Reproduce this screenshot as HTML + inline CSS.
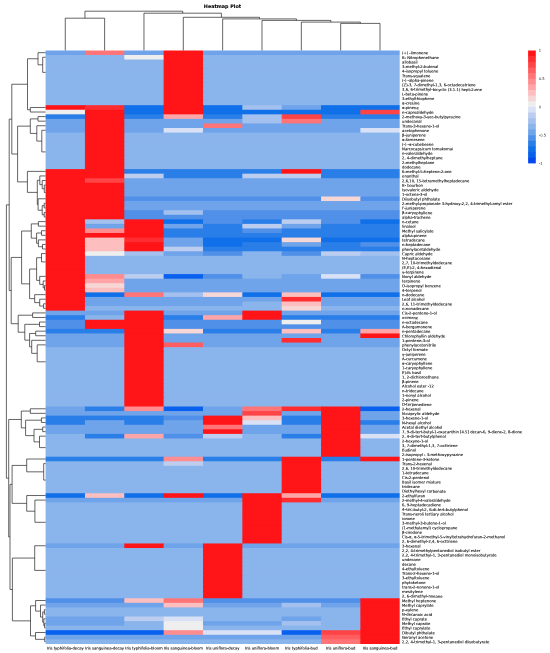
<!DOCTYPE html>
<html><head><meta charset="utf-8"><title>Heatmap Plot</title>
<style>
html,body{margin:0;padding:0;background:#fff;}
body{width:550px;height:653px;overflow:hidden;}
svg{display:block;}
text{font-family:"DejaVu Sans","Liberation Sans",sans-serif;fill:#000;text-rendering:geometricPrecision;stroke:#000;stroke-width:0.09px;}
.rl{font-size:3.76px;}
.cl{font-size:3.76px;text-anchor:middle;}
.cb{font-size:3.7px;stroke:none;fill:#222;}
.tt{font-size:4.86px;font-weight:bold;text-anchor:middle;}
.dg line,.dg path{stroke:#222;stroke-width:0.7;fill:none;}
</style></head><body>
<svg width="550" height="653" viewBox="0 0 550 653">
<rect x="0" y="0" width="550" height="653" fill="#ffffff"/>
<clipPath id="hc"><rect x="45.60" y="50.40" width="354.10" height="593.50"/></clipPath>
<g id="heat" clip-path="url(#hc)" opacity="0.9999">
<rect x="44.60" y="49.40" width="41.14" height="6.37" fill="#6fa3ea"/>
<rect x="84.94" y="49.40" width="40.14" height="6.37" fill="#ff7577"/>
<rect x="124.29" y="49.40" width="40.14" height="6.37" fill="#6fa3ea"/>
<rect x="163.63" y="49.40" width="40.14" height="6.37" fill="#ff1418"/>
<rect x="202.98" y="49.40" width="197.52" height="6.37" fill="#6fa3ea"/>
<rect x="44.60" y="54.97" width="80.49" height="5.37" fill="#8ab4ec"/>
<rect x="124.29" y="54.97" width="40.14" height="5.37" fill="#eeeeee"/>
<rect x="163.63" y="54.97" width="40.14" height="5.37" fill="#ff1418"/>
<rect x="202.98" y="54.97" width="197.52" height="5.37" fill="#8ab4ec"/>
<rect x="44.60" y="59.53" width="119.83" height="5.37" fill="#8ab4ec"/>
<rect x="163.63" y="59.53" width="40.14" height="5.37" fill="#ff1418"/>
<rect x="202.98" y="59.53" width="197.52" height="5.37" fill="#8ab4ec"/>
<rect x="44.60" y="64.10" width="119.83" height="5.37" fill="#8ab4ec"/>
<rect x="163.63" y="64.10" width="40.14" height="5.37" fill="#ff1418"/>
<rect x="202.98" y="64.10" width="197.52" height="5.37" fill="#8ab4ec"/>
<rect x="44.60" y="68.66" width="119.83" height="5.37" fill="#8ab4ec"/>
<rect x="163.63" y="68.66" width="40.14" height="5.37" fill="#ff1418"/>
<rect x="202.98" y="68.66" width="197.52" height="5.37" fill="#8ab4ec"/>
<rect x="44.60" y="73.23" width="119.83" height="5.37" fill="#8ab4ec"/>
<rect x="163.63" y="73.23" width="40.14" height="5.37" fill="#ff1418"/>
<rect x="202.98" y="73.23" width="197.52" height="5.37" fill="#8ab4ec"/>
<rect x="44.60" y="77.79" width="119.83" height="5.37" fill="#8ab4ec"/>
<rect x="163.63" y="77.79" width="40.14" height="5.37" fill="#ff1418"/>
<rect x="202.98" y="77.79" width="197.52" height="5.37" fill="#8ab4ec"/>
<rect x="44.60" y="82.36" width="119.83" height="5.37" fill="#8ab4ec"/>
<rect x="163.63" y="82.36" width="40.14" height="5.37" fill="#ff1418"/>
<rect x="202.98" y="82.36" width="197.52" height="5.37" fill="#8ab4ec"/>
<rect x="44.60" y="86.92" width="119.83" height="5.37" fill="#8ab4ec"/>
<rect x="163.63" y="86.92" width="40.14" height="5.37" fill="#ff1418"/>
<rect x="202.98" y="86.92" width="197.52" height="5.37" fill="#8ab4ec"/>
<rect x="44.60" y="91.49" width="119.83" height="5.37" fill="#8ab4ec"/>
<rect x="163.63" y="91.49" width="40.14" height="5.37" fill="#ff1418"/>
<rect x="202.98" y="91.49" width="197.52" height="5.37" fill="#8ab4ec"/>
<rect x="44.60" y="96.05" width="119.83" height="5.37" fill="#8ab4ec"/>
<rect x="163.63" y="96.05" width="40.14" height="5.37" fill="#ff1418"/>
<rect x="202.98" y="96.05" width="197.52" height="5.37" fill="#8ab4ec"/>
<rect x="44.60" y="100.62" width="119.83" height="5.37" fill="#8ab4ec"/>
<rect x="163.63" y="100.62" width="40.14" height="5.37" fill="#ff1418"/>
<rect x="202.98" y="100.62" width="197.52" height="5.37" fill="#8ab4ec"/>
<rect x="44.60" y="105.18" width="41.14" height="5.37" fill="#ff1418"/>
<rect x="84.94" y="105.18" width="40.14" height="5.37" fill="#ff2c30"/>
<rect x="124.29" y="105.18" width="40.14" height="5.37" fill="#1070ea"/>
<rect x="163.63" y="105.18" width="40.14" height="5.37" fill="#ff1418"/>
<rect x="202.98" y="105.18" width="40.14" height="5.37" fill="#1070ea"/>
<rect x="242.32" y="105.18" width="40.14" height="5.37" fill="#a3c0ee"/>
<rect x="281.67" y="105.18" width="40.14" height="5.37" fill="#6fa3ea"/>
<rect x="321.01" y="105.18" width="79.49" height="5.37" fill="#1070ea"/>
<rect x="44.60" y="109.75" width="41.14" height="5.37" fill="#eeeeee"/>
<rect x="84.94" y="109.75" width="40.14" height="5.37" fill="#ff1418"/>
<rect x="124.29" y="109.75" width="40.14" height="5.37" fill="#1070ea"/>
<rect x="163.63" y="109.75" width="40.14" height="5.37" fill="#ff1418"/>
<rect x="202.98" y="109.75" width="158.18" height="5.37" fill="#1070ea"/>
<rect x="360.36" y="109.75" width="40.14" height="5.37" fill="#ff4448"/>
<rect x="44.60" y="114.32" width="41.14" height="5.37" fill="#2a7ee8"/>
<rect x="84.94" y="114.32" width="40.14" height="5.37" fill="#ff1418"/>
<rect x="124.29" y="114.32" width="40.14" height="5.37" fill="#2a7ee8"/>
<rect x="163.63" y="114.32" width="40.14" height="5.37" fill="#ffa5a7"/>
<rect x="202.98" y="114.32" width="40.14" height="5.37" fill="#2a7ee8"/>
<rect x="242.32" y="114.32" width="40.14" height="5.37" fill="#a3c0ee"/>
<rect x="281.67" y="114.32" width="40.14" height="5.37" fill="#ff4448"/>
<rect x="321.01" y="114.32" width="79.49" height="5.37" fill="#2a7ee8"/>
<rect x="44.60" y="118.88" width="41.14" height="5.37" fill="#6fa3ea"/>
<rect x="84.94" y="118.88" width="40.14" height="5.37" fill="#ff1418"/>
<rect x="124.29" y="118.88" width="118.83" height="5.37" fill="#6fa3ea"/>
<rect x="242.32" y="118.88" width="40.14" height="5.37" fill="#a3c0ee"/>
<rect x="281.67" y="118.88" width="40.14" height="5.37" fill="#ff7577"/>
<rect x="321.01" y="118.88" width="79.49" height="5.37" fill="#6fa3ea"/>
<rect x="44.60" y="123.45" width="41.14" height="5.37" fill="#6fa3ea"/>
<rect x="84.94" y="123.45" width="40.14" height="5.37" fill="#ff1418"/>
<rect x="124.29" y="123.45" width="79.49" height="5.37" fill="#6fa3ea"/>
<rect x="202.98" y="123.45" width="40.14" height="5.37" fill="#ff7577"/>
<rect x="242.32" y="123.45" width="158.18" height="5.37" fill="#6fa3ea"/>
<rect x="44.60" y="128.01" width="41.14" height="5.37" fill="#6fa3ea"/>
<rect x="84.94" y="128.01" width="40.14" height="5.37" fill="#ff1418"/>
<rect x="124.29" y="128.01" width="40.14" height="5.37" fill="#6fa3ea"/>
<rect x="163.63" y="128.01" width="40.14" height="5.37" fill="#d8e1f5"/>
<rect x="202.98" y="128.01" width="158.18" height="5.37" fill="#6fa3ea"/>
<rect x="360.36" y="128.01" width="40.14" height="5.37" fill="#d8e1f5"/>
<rect x="44.60" y="132.58" width="41.14" height="5.37" fill="#8ab4ec"/>
<rect x="84.94" y="132.58" width="40.14" height="5.37" fill="#ff1418"/>
<rect x="124.29" y="132.58" width="276.21" height="5.37" fill="#8ab4ec"/>
<rect x="44.60" y="137.14" width="41.14" height="5.37" fill="#8ab4ec"/>
<rect x="84.94" y="137.14" width="40.14" height="5.37" fill="#ff1418"/>
<rect x="124.29" y="137.14" width="276.21" height="5.37" fill="#8ab4ec"/>
<rect x="44.60" y="141.71" width="41.14" height="5.37" fill="#8ab4ec"/>
<rect x="84.94" y="141.71" width="40.14" height="5.37" fill="#ff1418"/>
<rect x="124.29" y="141.71" width="276.21" height="5.37" fill="#8ab4ec"/>
<rect x="44.60" y="146.27" width="41.14" height="5.37" fill="#8ab4ec"/>
<rect x="84.94" y="146.27" width="40.14" height="5.37" fill="#ff1418"/>
<rect x="124.29" y="146.27" width="276.21" height="5.37" fill="#8ab4ec"/>
<rect x="44.60" y="150.84" width="41.14" height="5.37" fill="#8ab4ec"/>
<rect x="84.94" y="150.84" width="40.14" height="5.37" fill="#ff1418"/>
<rect x="124.29" y="150.84" width="276.21" height="5.37" fill="#8ab4ec"/>
<rect x="44.60" y="155.40" width="41.14" height="5.37" fill="#8ab4ec"/>
<rect x="84.94" y="155.40" width="40.14" height="5.37" fill="#ff1418"/>
<rect x="124.29" y="155.40" width="276.21" height="5.37" fill="#8ab4ec"/>
<rect x="44.60" y="159.97" width="41.14" height="5.37" fill="#8ab4ec"/>
<rect x="84.94" y="159.97" width="40.14" height="5.37" fill="#ff1418"/>
<rect x="124.29" y="159.97" width="276.21" height="5.37" fill="#8ab4ec"/>
<rect x="44.60" y="164.53" width="41.14" height="5.37" fill="#8ab4ec"/>
<rect x="84.94" y="164.53" width="40.14" height="5.37" fill="#ff1418"/>
<rect x="124.29" y="164.53" width="276.21" height="5.37" fill="#8ab4ec"/>
<rect x="44.60" y="169.10" width="80.49" height="5.37" fill="#ff1418"/>
<rect x="124.29" y="169.10" width="158.18" height="5.37" fill="#2a7ee8"/>
<rect x="281.67" y="169.10" width="40.14" height="5.37" fill="#ff1418"/>
<rect x="321.01" y="169.10" width="79.49" height="5.37" fill="#2a7ee8"/>
<rect x="44.60" y="173.67" width="80.49" height="5.37" fill="#ff1418"/>
<rect x="124.29" y="173.67" width="40.14" height="5.37" fill="#bccdf0"/>
<rect x="163.63" y="173.67" width="79.49" height="5.37" fill="#2a7ee8"/>
<rect x="242.32" y="173.67" width="79.49" height="5.37" fill="#bccdf0"/>
<rect x="321.01" y="173.67" width="79.49" height="5.37" fill="#2a7ee8"/>
<rect x="44.60" y="178.23" width="41.14" height="5.37" fill="#ff1418"/>
<rect x="84.94" y="178.23" width="40.14" height="5.37" fill="#ff4448"/>
<rect x="124.29" y="178.23" width="276.21" height="5.37" fill="#6fa3ea"/>
<rect x="44.60" y="182.80" width="80.49" height="5.37" fill="#ff1418"/>
<rect x="124.29" y="182.80" width="276.21" height="5.37" fill="#6fa3ea"/>
<rect x="44.60" y="187.36" width="80.49" height="5.37" fill="#ff1418"/>
<rect x="124.29" y="187.36" width="276.21" height="5.37" fill="#6fa3ea"/>
<rect x="44.60" y="191.93" width="80.49" height="5.37" fill="#ff1418"/>
<rect x="124.29" y="191.93" width="276.21" height="5.37" fill="#6fa3ea"/>
<rect x="44.60" y="196.49" width="80.49" height="5.37" fill="#ff1418"/>
<rect x="124.29" y="196.49" width="197.52" height="5.37" fill="#5090e8"/>
<rect x="321.01" y="196.49" width="40.14" height="5.37" fill="#f7d6d6"/>
<rect x="360.36" y="196.49" width="40.14" height="5.37" fill="#5090e8"/>
<rect x="44.60" y="201.06" width="80.49" height="5.37" fill="#ff1418"/>
<rect x="124.29" y="201.06" width="276.21" height="5.37" fill="#6fa3ea"/>
<rect x="44.60" y="205.62" width="80.49" height="5.37" fill="#ff1418"/>
<rect x="124.29" y="205.62" width="276.21" height="5.37" fill="#6fa3ea"/>
<rect x="44.60" y="210.19" width="80.49" height="5.37" fill="#ff1418"/>
<rect x="124.29" y="210.19" width="40.14" height="5.37" fill="#5090e8"/>
<rect x="163.63" y="210.19" width="40.14" height="5.37" fill="#a3c0ee"/>
<rect x="202.98" y="210.19" width="197.52" height="5.37" fill="#5090e8"/>
<rect x="44.60" y="214.75" width="80.49" height="5.37" fill="#ff1418"/>
<rect x="124.29" y="214.75" width="276.21" height="5.37" fill="#5090e8"/>
<rect x="44.60" y="219.32" width="41.14" height="5.37" fill="#ff1418"/>
<rect x="84.94" y="219.32" width="40.14" height="5.37" fill="#a3c0ee"/>
<rect x="124.29" y="219.32" width="40.14" height="5.37" fill="#ff1418"/>
<rect x="163.63" y="219.32" width="40.14" height="5.37" fill="#1070ea"/>
<rect x="202.98" y="219.32" width="40.14" height="5.37" fill="#5090e8"/>
<rect x="242.32" y="219.32" width="40.14" height="5.37" fill="#2a7ee8"/>
<rect x="281.67" y="219.32" width="40.14" height="5.37" fill="#bccdf0"/>
<rect x="321.01" y="219.32" width="40.14" height="5.37" fill="#5090e8"/>
<rect x="360.36" y="219.32" width="40.14" height="5.37" fill="#1070ea"/>
<rect x="44.60" y="223.88" width="41.14" height="5.37" fill="#ff1418"/>
<rect x="84.94" y="223.88" width="40.14" height="5.37" fill="#6fa3ea"/>
<rect x="124.29" y="223.88" width="40.14" height="5.37" fill="#ff1418"/>
<rect x="163.63" y="223.88" width="40.14" height="5.37" fill="#6fa3ea"/>
<rect x="202.98" y="223.88" width="40.14" height="5.37" fill="#2a7ee8"/>
<rect x="242.32" y="223.88" width="40.14" height="5.37" fill="#bccdf0"/>
<rect x="281.67" y="223.88" width="40.14" height="5.37" fill="#6fa3ea"/>
<rect x="321.01" y="223.88" width="79.49" height="5.37" fill="#2a7ee8"/>
<rect x="44.60" y="228.45" width="41.14" height="5.37" fill="#ff1418"/>
<rect x="84.94" y="228.45" width="40.14" height="5.37" fill="#ff8d8f"/>
<rect x="124.29" y="228.45" width="40.14" height="5.37" fill="#ff1418"/>
<rect x="163.63" y="228.45" width="79.49" height="5.37" fill="#2a7ee8"/>
<rect x="242.32" y="228.45" width="40.14" height="5.37" fill="#5090e8"/>
<rect x="281.67" y="228.45" width="118.83" height="5.37" fill="#2a7ee8"/>
<rect x="44.60" y="233.02" width="119.83" height="5.37" fill="#ff1418"/>
<rect x="163.63" y="233.02" width="236.87" height="5.37" fill="#2a7ee8"/>
<rect x="44.60" y="237.58" width="41.14" height="5.37" fill="#ff1418"/>
<rect x="84.94" y="237.58" width="40.14" height="5.37" fill="#fcbebe"/>
<rect x="124.29" y="237.58" width="40.14" height="5.37" fill="#ff2c30"/>
<rect x="163.63" y="237.58" width="40.14" height="5.37" fill="#6fa3ea"/>
<rect x="202.98" y="237.58" width="79.49" height="5.37" fill="#1070ea"/>
<rect x="281.67" y="237.58" width="40.14" height="5.37" fill="#f7d6d6"/>
<rect x="321.01" y="237.58" width="79.49" height="5.37" fill="#1070ea"/>
<rect x="44.60" y="242.15" width="41.14" height="5.37" fill="#ff1418"/>
<rect x="84.94" y="242.15" width="40.14" height="5.37" fill="#fcbebe"/>
<rect x="124.29" y="242.15" width="40.14" height="5.37" fill="#ff1418"/>
<rect x="163.63" y="242.15" width="40.14" height="5.37" fill="#6fa3ea"/>
<rect x="202.98" y="242.15" width="40.14" height="5.37" fill="#1070ea"/>
<rect x="242.32" y="242.15" width="40.14" height="5.37" fill="#2a7ee8"/>
<rect x="281.67" y="242.15" width="40.14" height="5.37" fill="#6fa3ea"/>
<rect x="321.01" y="242.15" width="40.14" height="5.37" fill="#2a7ee8"/>
<rect x="360.36" y="242.15" width="40.14" height="5.37" fill="#5090e8"/>
<rect x="44.60" y="246.71" width="41.14" height="5.37" fill="#ff1418"/>
<rect x="84.94" y="246.71" width="40.14" height="5.37" fill="#fcbebe"/>
<rect x="124.29" y="246.71" width="40.14" height="5.37" fill="#ff1418"/>
<rect x="163.63" y="246.71" width="40.14" height="5.37" fill="#bccdf0"/>
<rect x="202.98" y="246.71" width="197.52" height="5.37" fill="#2a7ee8"/>
<rect x="44.60" y="251.28" width="41.14" height="5.37" fill="#ff1418"/>
<rect x="84.94" y="251.28" width="40.14" height="5.37" fill="#eeeeee"/>
<rect x="124.29" y="251.28" width="40.14" height="5.37" fill="#a3c0ee"/>
<rect x="163.63" y="251.28" width="40.14" height="5.37" fill="#6fa3ea"/>
<rect x="202.98" y="251.28" width="40.14" height="5.37" fill="#5090e8"/>
<rect x="242.32" y="251.28" width="40.14" height="5.37" fill="#8ab4ec"/>
<rect x="281.67" y="251.28" width="40.14" height="5.37" fill="#5090e8"/>
<rect x="321.01" y="251.28" width="40.14" height="5.37" fill="#bccdf0"/>
<rect x="360.36" y="251.28" width="40.14" height="5.37" fill="#a3c0ee"/>
<rect x="44.60" y="255.84" width="41.14" height="5.37" fill="#ff1418"/>
<rect x="84.94" y="255.84" width="315.56" height="5.37" fill="#8ab4ec"/>
<rect x="44.60" y="260.41" width="41.14" height="5.37" fill="#ff1418"/>
<rect x="84.94" y="260.41" width="315.56" height="5.37" fill="#8ab4ec"/>
<rect x="44.60" y="264.97" width="41.14" height="5.37" fill="#ff1418"/>
<rect x="84.94" y="264.97" width="315.56" height="5.37" fill="#8ab4ec"/>
<rect x="44.60" y="269.54" width="41.14" height="5.37" fill="#ff1418"/>
<rect x="84.94" y="269.54" width="315.56" height="5.37" fill="#8ab4ec"/>
<rect x="44.60" y="274.10" width="41.14" height="5.37" fill="#ff1418"/>
<rect x="84.94" y="274.10" width="40.14" height="5.37" fill="#ff8d8f"/>
<rect x="124.29" y="274.10" width="40.14" height="5.37" fill="#bccdf0"/>
<rect x="163.63" y="274.10" width="40.14" height="5.37" fill="#0860ee"/>
<rect x="202.98" y="274.10" width="40.14" height="5.37" fill="#5090e8"/>
<rect x="242.32" y="274.10" width="40.14" height="5.37" fill="#8ab4ec"/>
<rect x="281.67" y="274.10" width="40.14" height="5.37" fill="#6fa3ea"/>
<rect x="321.01" y="274.10" width="40.14" height="5.37" fill="#d8e1f5"/>
<rect x="360.36" y="274.10" width="40.14" height="5.37" fill="#5090e8"/>
<rect x="44.60" y="278.67" width="41.14" height="5.37" fill="#ff1418"/>
<rect x="84.94" y="278.67" width="40.14" height="5.37" fill="#ffa5a7"/>
<rect x="124.29" y="278.67" width="276.21" height="5.37" fill="#6fa3ea"/>
<rect x="44.60" y="283.23" width="41.14" height="5.37" fill="#ff1418"/>
<rect x="84.94" y="283.23" width="40.14" height="5.37" fill="#f7d6d6"/>
<rect x="124.29" y="283.23" width="276.21" height="5.37" fill="#6fa3ea"/>
<rect x="44.60" y="287.80" width="41.14" height="5.37" fill="#ff1418"/>
<rect x="84.94" y="287.80" width="40.14" height="5.37" fill="#fcbebe"/>
<rect x="124.29" y="287.80" width="276.21" height="5.37" fill="#6fa3ea"/>
<rect x="44.60" y="292.37" width="41.14" height="5.37" fill="#ff1418"/>
<rect x="84.94" y="292.37" width="40.14" height="5.37" fill="#1070ea"/>
<rect x="124.29" y="292.37" width="40.14" height="5.37" fill="#ff7577"/>
<rect x="163.63" y="292.37" width="40.14" height="5.37" fill="#a3c0ee"/>
<rect x="202.98" y="292.37" width="40.14" height="5.37" fill="#f7d6d6"/>
<rect x="242.32" y="292.37" width="40.14" height="5.37" fill="#1070ea"/>
<rect x="281.67" y="292.37" width="40.14" height="5.37" fill="#fcbebe"/>
<rect x="321.01" y="292.37" width="79.49" height="5.37" fill="#1070ea"/>
<rect x="44.60" y="296.93" width="41.14" height="5.37" fill="#ff1418"/>
<rect x="84.94" y="296.93" width="197.52" height="5.37" fill="#6fa3ea"/>
<rect x="281.67" y="296.93" width="40.14" height="5.37" fill="#ff2c30"/>
<rect x="321.01" y="296.93" width="79.49" height="5.37" fill="#6fa3ea"/>
<rect x="44.60" y="301.50" width="41.14" height="5.37" fill="#ff1418"/>
<rect x="84.94" y="301.50" width="158.18" height="5.37" fill="#6fa3ea"/>
<rect x="242.32" y="301.50" width="40.14" height="5.37" fill="#8ab4ec"/>
<rect x="281.67" y="301.50" width="40.14" height="5.37" fill="#fcbebe"/>
<rect x="321.01" y="301.50" width="79.49" height="5.37" fill="#6fa3ea"/>
<rect x="44.60" y="306.06" width="41.14" height="5.37" fill="#ff1418"/>
<rect x="84.94" y="306.06" width="197.52" height="5.37" fill="#8ab4ec"/>
<rect x="281.67" y="306.06" width="40.14" height="5.37" fill="#f7d6d6"/>
<rect x="321.01" y="306.06" width="79.49" height="5.37" fill="#8ab4ec"/>
<rect x="44.60" y="310.63" width="80.49" height="5.37" fill="#6fa3ea"/>
<rect x="124.29" y="310.63" width="40.14" height="5.37" fill="#ff1418"/>
<rect x="163.63" y="310.63" width="79.49" height="5.37" fill="#6fa3ea"/>
<rect x="242.32" y="310.63" width="40.14" height="5.37" fill="#ff1418"/>
<rect x="281.67" y="310.63" width="118.83" height="5.37" fill="#6fa3ea"/>
<rect x="44.60" y="315.19" width="41.14" height="5.37" fill="#2a7ee8"/>
<rect x="84.94" y="315.19" width="40.14" height="5.37" fill="#8ab4ec"/>
<rect x="124.29" y="315.19" width="40.14" height="5.37" fill="#ff1418"/>
<rect x="163.63" y="315.19" width="40.14" height="5.37" fill="#2a7ee8"/>
<rect x="202.98" y="315.19" width="40.14" height="5.37" fill="#ffa5a7"/>
<rect x="242.32" y="315.19" width="40.14" height="5.37" fill="#ff1418"/>
<rect x="281.67" y="315.19" width="118.83" height="5.37" fill="#2a7ee8"/>
<rect x="44.60" y="319.76" width="41.14" height="5.37" fill="#5090e8"/>
<rect x="84.94" y="319.76" width="79.49" height="5.37" fill="#ff1418"/>
<rect x="163.63" y="319.76" width="118.83" height="5.37" fill="#5090e8"/>
<rect x="281.67" y="319.76" width="40.14" height="5.37" fill="#eeeeee"/>
<rect x="321.01" y="319.76" width="79.49" height="5.37" fill="#5090e8"/>
<rect x="44.60" y="324.32" width="41.14" height="5.37" fill="#5090e8"/>
<rect x="84.94" y="324.32" width="79.49" height="5.37" fill="#ff1418"/>
<rect x="163.63" y="324.32" width="236.87" height="5.37" fill="#5090e8"/>
<rect x="44.60" y="328.89" width="80.49" height="5.37" fill="#2a7ee8"/>
<rect x="124.29" y="328.89" width="40.14" height="5.37" fill="#ff1418"/>
<rect x="163.63" y="328.89" width="40.14" height="5.37" fill="#f7d6d6"/>
<rect x="202.98" y="328.89" width="79.49" height="5.37" fill="#2a7ee8"/>
<rect x="281.67" y="328.89" width="40.14" height="5.37" fill="#fcbebe"/>
<rect x="321.01" y="328.89" width="40.14" height="5.37" fill="#2a7ee8"/>
<rect x="360.36" y="328.89" width="40.14" height="5.37" fill="#ffa5a7"/>
<rect x="44.60" y="333.45" width="80.49" height="5.37" fill="#6fa3ea"/>
<rect x="124.29" y="333.45" width="40.14" height="5.37" fill="#ff1418"/>
<rect x="163.63" y="333.45" width="197.52" height="5.37" fill="#6fa3ea"/>
<rect x="360.36" y="333.45" width="40.14" height="5.37" fill="#ff1418"/>
<rect x="44.60" y="338.02" width="80.49" height="5.37" fill="#6fa3ea"/>
<rect x="124.29" y="338.02" width="40.14" height="5.37" fill="#ff1418"/>
<rect x="163.63" y="338.02" width="118.83" height="5.37" fill="#6fa3ea"/>
<rect x="281.67" y="338.02" width="40.14" height="5.37" fill="#ff2c30"/>
<rect x="321.01" y="338.02" width="79.49" height="5.37" fill="#6fa3ea"/>
<rect x="44.60" y="342.58" width="80.49" height="5.37" fill="#6fa3ea"/>
<rect x="124.29" y="342.58" width="40.14" height="5.37" fill="#ff1418"/>
<rect x="163.63" y="342.58" width="40.14" height="5.37" fill="#ff5d5f"/>
<rect x="202.98" y="342.58" width="197.52" height="5.37" fill="#6fa3ea"/>
<rect x="44.60" y="347.15" width="80.49" height="5.37" fill="#8ab4ec"/>
<rect x="124.29" y="347.15" width="40.14" height="5.37" fill="#ff1418"/>
<rect x="163.63" y="347.15" width="236.87" height="5.37" fill="#8ab4ec"/>
<rect x="44.60" y="351.72" width="80.49" height="5.37" fill="#8ab4ec"/>
<rect x="124.29" y="351.72" width="40.14" height="5.37" fill="#ff1418"/>
<rect x="163.63" y="351.72" width="236.87" height="5.37" fill="#8ab4ec"/>
<rect x="44.60" y="356.28" width="80.49" height="5.37" fill="#8ab4ec"/>
<rect x="124.29" y="356.28" width="40.14" height="5.37" fill="#ff1418"/>
<rect x="163.63" y="356.28" width="236.87" height="5.37" fill="#8ab4ec"/>
<rect x="44.60" y="360.85" width="80.49" height="5.37" fill="#8ab4ec"/>
<rect x="124.29" y="360.85" width="40.14" height="5.37" fill="#ff1418"/>
<rect x="163.63" y="360.85" width="236.87" height="5.37" fill="#8ab4ec"/>
<rect x="44.60" y="365.41" width="80.49" height="5.37" fill="#8ab4ec"/>
<rect x="124.29" y="365.41" width="40.14" height="5.37" fill="#ff1418"/>
<rect x="163.63" y="365.41" width="236.87" height="5.37" fill="#8ab4ec"/>
<rect x="44.60" y="369.98" width="80.49" height="5.37" fill="#8ab4ec"/>
<rect x="124.29" y="369.98" width="40.14" height="5.37" fill="#ff1418"/>
<rect x="163.63" y="369.98" width="236.87" height="5.37" fill="#8ab4ec"/>
<rect x="44.60" y="374.54" width="80.49" height="5.37" fill="#8ab4ec"/>
<rect x="124.29" y="374.54" width="40.14" height="5.37" fill="#ff1418"/>
<rect x="163.63" y="374.54" width="236.87" height="5.37" fill="#8ab4ec"/>
<rect x="44.60" y="379.11" width="80.49" height="5.37" fill="#8ab4ec"/>
<rect x="124.29" y="379.11" width="40.14" height="5.37" fill="#ff1418"/>
<rect x="163.63" y="379.11" width="236.87" height="5.37" fill="#8ab4ec"/>
<rect x="44.60" y="383.67" width="80.49" height="5.37" fill="#8ab4ec"/>
<rect x="124.29" y="383.67" width="40.14" height="5.37" fill="#ff1418"/>
<rect x="163.63" y="383.67" width="236.87" height="5.37" fill="#8ab4ec"/>
<rect x="44.60" y="388.24" width="80.49" height="5.37" fill="#8ab4ec"/>
<rect x="124.29" y="388.24" width="40.14" height="5.37" fill="#ff1418"/>
<rect x="163.63" y="388.24" width="236.87" height="5.37" fill="#8ab4ec"/>
<rect x="44.60" y="392.80" width="80.49" height="5.37" fill="#8ab4ec"/>
<rect x="124.29" y="392.80" width="40.14" height="5.37" fill="#ff1418"/>
<rect x="163.63" y="392.80" width="236.87" height="5.37" fill="#8ab4ec"/>
<rect x="44.60" y="397.37" width="80.49" height="5.37" fill="#8ab4ec"/>
<rect x="124.29" y="397.37" width="40.14" height="5.37" fill="#ff1418"/>
<rect x="163.63" y="397.37" width="236.87" height="5.37" fill="#8ab4ec"/>
<rect x="44.60" y="401.93" width="80.49" height="5.37" fill="#8ab4ec"/>
<rect x="124.29" y="401.93" width="40.14" height="5.37" fill="#ff1418"/>
<rect x="163.63" y="401.93" width="236.87" height="5.37" fill="#8ab4ec"/>
<rect x="44.60" y="406.50" width="41.14" height="5.37" fill="#6fa3ea"/>
<rect x="84.94" y="406.50" width="40.14" height="5.37" fill="#2a7ee8"/>
<rect x="124.29" y="406.50" width="40.14" height="5.37" fill="#ff8d8f"/>
<rect x="163.63" y="406.50" width="40.14" height="5.37" fill="#0860ee"/>
<rect x="202.98" y="406.50" width="40.14" height="5.37" fill="#6fa3ea"/>
<rect x="242.32" y="406.50" width="40.14" height="5.37" fill="#ff7577"/>
<rect x="281.67" y="406.50" width="40.14" height="5.37" fill="#ff2c30"/>
<rect x="321.01" y="406.50" width="40.14" height="5.37" fill="#ff1418"/>
<rect x="360.36" y="406.50" width="40.14" height="5.37" fill="#0860ee"/>
<rect x="44.60" y="411.07" width="198.52" height="5.37" fill="#6fa3ea"/>
<rect x="242.32" y="411.07" width="40.14" height="5.37" fill="#ff4448"/>
<rect x="281.67" y="411.07" width="40.14" height="5.37" fill="#6fa3ea"/>
<rect x="321.01" y="411.07" width="40.14" height="5.37" fill="#ff1418"/>
<rect x="360.36" y="411.07" width="40.14" height="5.37" fill="#6fa3ea"/>
<rect x="44.60" y="415.63" width="119.83" height="5.37" fill="#2a7ee8"/>
<rect x="163.63" y="415.63" width="40.14" height="5.37" fill="#5090e8"/>
<rect x="202.98" y="415.63" width="40.14" height="5.37" fill="#ff1418"/>
<rect x="242.32" y="415.63" width="40.14" height="5.37" fill="#fcbebe"/>
<rect x="281.67" y="415.63" width="40.14" height="5.37" fill="#2a7ee8"/>
<rect x="321.01" y="415.63" width="40.14" height="5.37" fill="#ff1418"/>
<rect x="360.36" y="415.63" width="40.14" height="5.37" fill="#6fa3ea"/>
<rect x="44.60" y="420.20" width="41.14" height="5.37" fill="#2a7ee8"/>
<rect x="84.94" y="420.20" width="40.14" height="5.37" fill="#6fa3ea"/>
<rect x="124.29" y="420.20" width="40.14" height="5.37" fill="#2a7ee8"/>
<rect x="163.63" y="420.20" width="40.14" height="5.37" fill="#6fa3ea"/>
<rect x="202.98" y="420.20" width="40.14" height="5.37" fill="#ff1418"/>
<rect x="242.32" y="420.20" width="40.14" height="5.37" fill="#d8e1f5"/>
<rect x="281.67" y="420.20" width="40.14" height="5.37" fill="#2a7ee8"/>
<rect x="321.01" y="420.20" width="40.14" height="5.37" fill="#ff1418"/>
<rect x="360.36" y="420.20" width="40.14" height="5.37" fill="#2a7ee8"/>
<rect x="44.60" y="424.76" width="159.18" height="5.37" fill="#6fa3ea"/>
<rect x="202.98" y="424.76" width="40.14" height="5.37" fill="#ff7577"/>
<rect x="242.32" y="424.76" width="79.49" height="5.37" fill="#6fa3ea"/>
<rect x="321.01" y="424.76" width="40.14" height="5.37" fill="#ff1418"/>
<rect x="360.36" y="424.76" width="40.14" height="5.37" fill="#6fa3ea"/>
<rect x="44.60" y="429.33" width="159.18" height="5.37" fill="#6fa3ea"/>
<rect x="202.98" y="429.33" width="40.14" height="5.37" fill="#ff1418"/>
<rect x="242.32" y="429.33" width="79.49" height="5.37" fill="#6fa3ea"/>
<rect x="321.01" y="429.33" width="40.14" height="5.37" fill="#ff1418"/>
<rect x="360.36" y="429.33" width="40.14" height="5.37" fill="#6fa3ea"/>
<rect x="44.60" y="433.89" width="41.14" height="5.37" fill="#8ab4ec"/>
<rect x="84.94" y="433.89" width="40.14" height="5.37" fill="#2a7ee8"/>
<rect x="124.29" y="433.89" width="40.14" height="5.37" fill="#ffa5a7"/>
<rect x="163.63" y="433.89" width="40.14" height="5.37" fill="#5090e8"/>
<rect x="202.98" y="433.89" width="40.14" height="5.37" fill="#bccdf0"/>
<rect x="242.32" y="433.89" width="40.14" height="5.37" fill="#8ab4ec"/>
<rect x="281.67" y="433.89" width="40.14" height="5.37" fill="#2a7ee8"/>
<rect x="321.01" y="433.89" width="40.14" height="5.37" fill="#ff1418"/>
<rect x="360.36" y="433.89" width="40.14" height="5.37" fill="#d8e1f5"/>
<rect x="44.60" y="438.46" width="277.21" height="5.37" fill="#8ab4ec"/>
<rect x="321.01" y="438.46" width="40.14" height="5.37" fill="#ff1418"/>
<rect x="360.36" y="438.46" width="40.14" height="5.37" fill="#8ab4ec"/>
<rect x="44.60" y="443.02" width="277.21" height="5.37" fill="#8ab4ec"/>
<rect x="321.01" y="443.02" width="40.14" height="5.37" fill="#ff1418"/>
<rect x="360.36" y="443.02" width="40.14" height="5.37" fill="#8ab4ec"/>
<rect x="44.60" y="447.59" width="277.21" height="5.37" fill="#8ab4ec"/>
<rect x="321.01" y="447.59" width="40.14" height="5.37" fill="#ff1418"/>
<rect x="360.36" y="447.59" width="40.14" height="5.37" fill="#8ab4ec"/>
<rect x="44.60" y="452.15" width="277.21" height="5.37" fill="#8ab4ec"/>
<rect x="321.01" y="452.15" width="40.14" height="5.37" fill="#ff1418"/>
<rect x="360.36" y="452.15" width="40.14" height="5.37" fill="#8ab4ec"/>
<rect x="44.60" y="456.72" width="119.83" height="5.37" fill="#2a7ee8"/>
<rect x="163.63" y="456.72" width="40.14" height="5.37" fill="#ff8d8f"/>
<rect x="202.98" y="456.72" width="79.49" height="5.37" fill="#2a7ee8"/>
<rect x="281.67" y="456.72" width="40.14" height="5.37" fill="#ff1418"/>
<rect x="321.01" y="456.72" width="40.14" height="5.37" fill="#2a7ee8"/>
<rect x="360.36" y="456.72" width="40.14" height="5.37" fill="#ff1418"/>
<rect x="44.60" y="461.28" width="119.83" height="5.37" fill="#8ab4ec"/>
<rect x="163.63" y="461.28" width="40.14" height="5.37" fill="#bccdf0"/>
<rect x="202.98" y="461.28" width="79.49" height="5.37" fill="#8ab4ec"/>
<rect x="281.67" y="461.28" width="40.14" height="5.37" fill="#ff1418"/>
<rect x="321.01" y="461.28" width="79.49" height="5.37" fill="#8ab4ec"/>
<rect x="44.60" y="465.85" width="237.87" height="5.37" fill="#8ab4ec"/>
<rect x="281.67" y="465.85" width="40.14" height="5.37" fill="#ff1418"/>
<rect x="321.01" y="465.85" width="79.49" height="5.37" fill="#8ab4ec"/>
<rect x="44.60" y="470.42" width="237.87" height="5.37" fill="#8ab4ec"/>
<rect x="281.67" y="470.42" width="40.14" height="5.37" fill="#ff1418"/>
<rect x="321.01" y="470.42" width="79.49" height="5.37" fill="#8ab4ec"/>
<rect x="44.60" y="474.98" width="237.87" height="5.37" fill="#8ab4ec"/>
<rect x="281.67" y="474.98" width="40.14" height="5.37" fill="#ff1418"/>
<rect x="321.01" y="474.98" width="79.49" height="5.37" fill="#8ab4ec"/>
<rect x="44.60" y="479.55" width="237.87" height="5.37" fill="#8ab4ec"/>
<rect x="281.67" y="479.55" width="40.14" height="5.37" fill="#ff1418"/>
<rect x="321.01" y="479.55" width="79.49" height="5.37" fill="#8ab4ec"/>
<rect x="44.60" y="484.11" width="237.87" height="5.37" fill="#8ab4ec"/>
<rect x="281.67" y="484.11" width="40.14" height="5.37" fill="#ff1418"/>
<rect x="321.01" y="484.11" width="79.49" height="5.37" fill="#8ab4ec"/>
<rect x="44.60" y="488.68" width="237.87" height="5.37" fill="#8ab4ec"/>
<rect x="281.67" y="488.68" width="40.14" height="5.37" fill="#ff1418"/>
<rect x="321.01" y="488.68" width="79.49" height="5.37" fill="#8ab4ec"/>
<rect x="44.60" y="493.24" width="41.14" height="5.37" fill="#1070ea"/>
<rect x="84.94" y="493.24" width="40.14" height="5.37" fill="#fcbebe"/>
<rect x="124.29" y="493.24" width="40.14" height="5.37" fill="#1070ea"/>
<rect x="163.63" y="493.24" width="40.14" height="5.37" fill="#ff1418"/>
<rect x="202.98" y="493.24" width="40.14" height="5.37" fill="#1070ea"/>
<rect x="242.32" y="493.24" width="40.14" height="5.37" fill="#ff1418"/>
<rect x="281.67" y="493.24" width="40.14" height="5.37" fill="#ffa5a7"/>
<rect x="321.01" y="493.24" width="79.49" height="5.37" fill="#1070ea"/>
<rect x="44.60" y="497.81" width="198.52" height="5.37" fill="#6fa3ea"/>
<rect x="242.32" y="497.81" width="40.14" height="5.37" fill="#ff1418"/>
<rect x="281.67" y="497.81" width="40.14" height="5.37" fill="#ff2c30"/>
<rect x="321.01" y="497.81" width="79.49" height="5.37" fill="#6fa3ea"/>
<rect x="44.60" y="502.37" width="198.52" height="5.37" fill="#8ab4ec"/>
<rect x="242.32" y="502.37" width="40.14" height="5.37" fill="#ff1418"/>
<rect x="281.67" y="502.37" width="118.83" height="5.37" fill="#8ab4ec"/>
<rect x="44.60" y="506.94" width="198.52" height="5.37" fill="#8ab4ec"/>
<rect x="242.32" y="506.94" width="40.14" height="5.37" fill="#ff1418"/>
<rect x="281.67" y="506.94" width="118.83" height="5.37" fill="#8ab4ec"/>
<rect x="44.60" y="511.50" width="198.52" height="5.37" fill="#8ab4ec"/>
<rect x="242.32" y="511.50" width="40.14" height="5.37" fill="#ff1418"/>
<rect x="281.67" y="511.50" width="118.83" height="5.37" fill="#8ab4ec"/>
<rect x="44.60" y="516.07" width="198.52" height="5.37" fill="#8ab4ec"/>
<rect x="242.32" y="516.07" width="40.14" height="5.37" fill="#ff1418"/>
<rect x="281.67" y="516.07" width="118.83" height="5.37" fill="#8ab4ec"/>
<rect x="44.60" y="520.63" width="198.52" height="5.37" fill="#8ab4ec"/>
<rect x="242.32" y="520.63" width="40.14" height="5.37" fill="#ff1418"/>
<rect x="281.67" y="520.63" width="118.83" height="5.37" fill="#8ab4ec"/>
<rect x="44.60" y="525.20" width="198.52" height="5.37" fill="#8ab4ec"/>
<rect x="242.32" y="525.20" width="40.14" height="5.37" fill="#ff1418"/>
<rect x="281.67" y="525.20" width="118.83" height="5.37" fill="#8ab4ec"/>
<rect x="44.60" y="529.77" width="198.52" height="5.37" fill="#8ab4ec"/>
<rect x="242.32" y="529.77" width="40.14" height="5.37" fill="#ff1418"/>
<rect x="281.67" y="529.77" width="118.83" height="5.37" fill="#8ab4ec"/>
<rect x="44.60" y="534.33" width="198.52" height="5.37" fill="#8ab4ec"/>
<rect x="242.32" y="534.33" width="40.14" height="5.37" fill="#ff1418"/>
<rect x="281.67" y="534.33" width="118.83" height="5.37" fill="#8ab4ec"/>
<rect x="44.60" y="538.90" width="198.52" height="5.37" fill="#8ab4ec"/>
<rect x="242.32" y="538.90" width="40.14" height="5.37" fill="#ff1418"/>
<rect x="281.67" y="538.90" width="118.83" height="5.37" fill="#8ab4ec"/>
<rect x="44.60" y="543.46" width="80.49" height="5.37" fill="#6fa3ea"/>
<rect x="124.29" y="543.46" width="40.14" height="5.37" fill="#ff1418"/>
<rect x="163.63" y="543.46" width="40.14" height="5.37" fill="#6fa3ea"/>
<rect x="202.98" y="543.46" width="40.14" height="5.37" fill="#ff1418"/>
<rect x="242.32" y="543.46" width="158.18" height="5.37" fill="#6fa3ea"/>
<rect x="44.60" y="548.03" width="159.18" height="5.37" fill="#8ab4ec"/>
<rect x="202.98" y="548.03" width="40.14" height="5.37" fill="#ff1418"/>
<rect x="242.32" y="548.03" width="158.18" height="5.37" fill="#8ab4ec"/>
<rect x="44.60" y="552.59" width="159.18" height="5.37" fill="#8ab4ec"/>
<rect x="202.98" y="552.59" width="40.14" height="5.37" fill="#ff1418"/>
<rect x="242.32" y="552.59" width="158.18" height="5.37" fill="#8ab4ec"/>
<rect x="44.60" y="557.16" width="159.18" height="5.37" fill="#8ab4ec"/>
<rect x="202.98" y="557.16" width="40.14" height="5.37" fill="#ff1418"/>
<rect x="242.32" y="557.16" width="158.18" height="5.37" fill="#8ab4ec"/>
<rect x="44.60" y="561.72" width="159.18" height="5.37" fill="#8ab4ec"/>
<rect x="202.98" y="561.72" width="40.14" height="5.37" fill="#ff1418"/>
<rect x="242.32" y="561.72" width="158.18" height="5.37" fill="#8ab4ec"/>
<rect x="44.60" y="566.29" width="159.18" height="5.37" fill="#8ab4ec"/>
<rect x="202.98" y="566.29" width="40.14" height="5.37" fill="#ff1418"/>
<rect x="242.32" y="566.29" width="158.18" height="5.37" fill="#8ab4ec"/>
<rect x="44.60" y="570.85" width="159.18" height="5.37" fill="#8ab4ec"/>
<rect x="202.98" y="570.85" width="40.14" height="5.37" fill="#ff1418"/>
<rect x="242.32" y="570.85" width="158.18" height="5.37" fill="#8ab4ec"/>
<rect x="44.60" y="575.42" width="159.18" height="5.37" fill="#8ab4ec"/>
<rect x="202.98" y="575.42" width="40.14" height="5.37" fill="#ff1418"/>
<rect x="242.32" y="575.42" width="158.18" height="5.37" fill="#8ab4ec"/>
<rect x="44.60" y="579.98" width="159.18" height="5.37" fill="#8ab4ec"/>
<rect x="202.98" y="579.98" width="40.14" height="5.37" fill="#ff1418"/>
<rect x="242.32" y="579.98" width="158.18" height="5.37" fill="#8ab4ec"/>
<rect x="44.60" y="584.55" width="159.18" height="5.37" fill="#8ab4ec"/>
<rect x="202.98" y="584.55" width="40.14" height="5.37" fill="#ff1418"/>
<rect x="242.32" y="584.55" width="158.18" height="5.37" fill="#8ab4ec"/>
<rect x="44.60" y="589.12" width="159.18" height="5.37" fill="#8ab4ec"/>
<rect x="202.98" y="589.12" width="40.14" height="5.37" fill="#ff1418"/>
<rect x="242.32" y="589.12" width="158.18" height="5.37" fill="#8ab4ec"/>
<rect x="44.60" y="593.68" width="159.18" height="5.37" fill="#8ab4ec"/>
<rect x="202.98" y="593.68" width="40.14" height="5.37" fill="#ff1418"/>
<rect x="242.32" y="593.68" width="158.18" height="5.37" fill="#8ab4ec"/>
<rect x="44.60" y="598.25" width="80.49" height="5.37" fill="#5090e8"/>
<rect x="124.29" y="598.25" width="40.14" height="5.37" fill="#fcbebe"/>
<rect x="163.63" y="598.25" width="40.14" height="5.37" fill="#ff7577"/>
<rect x="202.98" y="598.25" width="158.18" height="5.37" fill="#5090e8"/>
<rect x="360.36" y="598.25" width="40.14" height="5.37" fill="#ff1418"/>
<rect x="44.60" y="602.81" width="119.83" height="5.37" fill="#6fa3ea"/>
<rect x="163.63" y="602.81" width="40.14" height="5.37" fill="#fcbebe"/>
<rect x="202.98" y="602.81" width="79.49" height="5.37" fill="#6fa3ea"/>
<rect x="281.67" y="602.81" width="40.14" height="5.37" fill="#a3c0ee"/>
<rect x="321.01" y="602.81" width="40.14" height="5.37" fill="#6fa3ea"/>
<rect x="360.36" y="602.81" width="40.14" height="5.37" fill="#ff1418"/>
<rect x="44.60" y="607.38" width="316.56" height="5.37" fill="#8ab4ec"/>
<rect x="360.36" y="607.38" width="40.14" height="5.37" fill="#ff1418"/>
<rect x="44.60" y="611.94" width="316.56" height="5.37" fill="#8ab4ec"/>
<rect x="360.36" y="611.94" width="40.14" height="5.37" fill="#ff1418"/>
<rect x="44.60" y="616.51" width="80.49" height="5.37" fill="#6fa3ea"/>
<rect x="124.29" y="616.51" width="40.14" height="5.37" fill="#bccdf0"/>
<rect x="163.63" y="616.51" width="40.14" height="5.37" fill="#d8e1f5"/>
<rect x="202.98" y="616.51" width="79.49" height="5.37" fill="#8ab4ec"/>
<rect x="281.67" y="616.51" width="40.14" height="5.37" fill="#6fa3ea"/>
<rect x="321.01" y="616.51" width="40.14" height="5.37" fill="#8ab4ec"/>
<rect x="360.36" y="616.51" width="40.14" height="5.37" fill="#ff1418"/>
<rect x="44.60" y="621.07" width="80.49" height="5.37" fill="#6fa3ea"/>
<rect x="124.29" y="621.07" width="40.14" height="5.37" fill="#8ab4ec"/>
<rect x="163.63" y="621.07" width="40.14" height="5.37" fill="#eeeeee"/>
<rect x="202.98" y="621.07" width="79.49" height="5.37" fill="#6fa3ea"/>
<rect x="281.67" y="621.07" width="40.14" height="5.37" fill="#a3c0ee"/>
<rect x="321.01" y="621.07" width="40.14" height="5.37" fill="#8ab4ec"/>
<rect x="360.36" y="621.07" width="40.14" height="5.37" fill="#ff1418"/>
<rect x="44.60" y="625.64" width="119.83" height="5.37" fill="#8ab4ec"/>
<rect x="163.63" y="625.64" width="40.14" height="5.37" fill="#eeeeee"/>
<rect x="202.98" y="625.64" width="158.18" height="5.37" fill="#8ab4ec"/>
<rect x="360.36" y="625.64" width="40.14" height="5.37" fill="#ff1418"/>
<rect x="44.60" y="630.20" width="119.83" height="5.37" fill="#0860ee"/>
<rect x="163.63" y="630.20" width="40.14" height="5.37" fill="#ff8d8f"/>
<rect x="202.98" y="630.20" width="79.49" height="5.37" fill="#d8e1f5"/>
<rect x="281.67" y="630.20" width="40.14" height="5.37" fill="#0860ee"/>
<rect x="321.01" y="630.20" width="40.14" height="5.37" fill="#ff4448"/>
<rect x="360.36" y="630.20" width="40.14" height="5.37" fill="#ff1418"/>
<rect x="44.60" y="634.77" width="277.21" height="5.37" fill="#6fa3ea"/>
<rect x="321.01" y="634.77" width="40.14" height="5.37" fill="#ff5d5f"/>
<rect x="360.36" y="634.77" width="40.14" height="5.37" fill="#ff1418"/>
<rect x="44.60" y="639.33" width="277.21" height="5.37" fill="#8ab4ec"/>
<rect x="321.01" y="639.33" width="40.14" height="5.37" fill="#ff7577"/>
<rect x="360.36" y="639.33" width="40.14" height="5.37" fill="#ff1418"/>
</g>
<g id="rowlabels">
<text class="rl" transform="matrix(1 .0005 0 1 402.1 54.33)">(+) -limonene</text>
<text class="rl" transform="matrix(1 .0005 0 1 402.1 58.90)">B- Nitrophenethane</text>
<text class="rl" transform="matrix(1 .0005 0 1 402.1 63.46)">allobasil</text>
<text class="rl" transform="matrix(1 .0005 0 1 402.1 68.03)">3-methyl-2-butenal</text>
<text class="rl" transform="matrix(1 .0005 0 1 402.1 72.59)">4-isopropyl toluene</text>
<text class="rl" transform="matrix(1 .0005 0 1 402.1 77.16)">Trans-squalene</text>
<text class="rl" transform="matrix(1 .0005 0 1 402.1 81.72)">(-) -alpha-pinene</text>
<text class="rl" transform="matrix(1 .0005 0 1 402.1 86.29)">(Z)-3, 7-dimethyl-1,3, 6-octadecatriene</text>
<text class="rl" transform="matrix(1 .0005 0 1 402.1 90.86)">3,6, 6-trimethyl-bicyclic (3.1.1) hept-2-ene</text>
<text class="rl" transform="matrix(1 .0005 0 1 402.1 95.42)">L-beta-pinene</text>
<text class="rl" transform="matrix(1 .0005 0 1 402.1 99.99)">3-ethylthiophene</text>
<text class="rl" transform="matrix(1 .0005 0 1 402.1 104.55)">α-cresine</text>
<text class="rl" transform="matrix(1 .0005 0 1 402.1 109.12)">α-pinene</text>
<text class="rl" transform="matrix(1 .0005 0 1 402.1 113.68)">n-caproaldehyde</text>
<text class="rl" transform="matrix(1 .0005 0 1 402.1 118.25)">2-methoxy-3-sec-butylpyrazine</text>
<text class="rl" transform="matrix(1 .0005 0 1 402.1 122.81)">undecanal</text>
<text class="rl" transform="matrix(1 .0005 0 1 402.1 127.38)">Trans-3-hexene-1-ol</text>
<text class="rl" transform="matrix(1 .0005 0 1 402.1 131.94)">acetophenone</text>
<text class="rl" transform="matrix(1 .0005 0 1 402.1 136.51)">β-juniperene</text>
<text class="rl" transform="matrix(1 .0005 0 1 402.1 141.07)">α-farnesene</text>
<text class="rl" transform="matrix(1 .0005 0 1 402.1 145.64)">(-) -α-cubebeene</text>
<text class="rl" transform="matrix(1 .0005 0 1 402.1 150.21)">Narcocapsicum tomakomai</text>
<text class="rl" transform="matrix(1 .0005 0 1 402.1 154.77)">n-valeraldehyde</text>
<text class="rl" transform="matrix(1 .0005 0 1 402.1 159.34)">2, 4-dimethylheptane</text>
<text class="rl" transform="matrix(1 .0005 0 1 402.1 163.90)">2-methylheptane</text>
<text class="rl" transform="matrix(1 .0005 0 1 402.1 168.47)">dodecane</text>
<text class="rl" transform="matrix(1 .0005 0 1 402.1 173.03)">6-methyl-5-heptene-2-one</text>
<text class="rl" transform="matrix(1 .0005 0 1 402.1 177.60)">enanthal</text>
<text class="rl" transform="matrix(1 .0005 0 1 402.1 182.16)">2,6,10, 15-tetramethylheptadecane</text>
<text class="rl" transform="matrix(1 .0005 0 1 402.1 186.73)">B- bourbon</text>
<text class="rl" transform="matrix(1 .0005 0 1 402.1 191.29)">Isovaleric aldehyde</text>
<text class="rl" transform="matrix(1 .0005 0 1 402.1 195.86)">1-octene-3-ol</text>
<text class="rl" transform="matrix(1 .0005 0 1 402.1 200.43)">Diisobutyl phthalate</text>
<text class="rl" transform="matrix(1 .0005 0 1 402.1 204.99)">2-methyl-propionate 3-hydroxy-2,2, 4-trimethyl-amyl ester</text>
<text class="rl" transform="matrix(1 .0005 0 1 402.1 209.56)">Γ-juniperene</text>
<text class="rl" transform="matrix(1 .0005 0 1 402.1 214.12)">β-caryophyllene</text>
<text class="rl" transform="matrix(1 .0005 0 1 402.1 218.69)">alpha-trachene</text>
<text class="rl" transform="matrix(1 .0005 0 1 402.1 223.25)">n-cetane</text>
<text class="rl" transform="matrix(1 .0005 0 1 402.1 227.82)">linalool</text>
<text class="rl" transform="matrix(1 .0005 0 1 402.1 232.38)">Methyl salicylate</text>
<text class="rl" transform="matrix(1 .0005 0 1 402.1 236.95)">alpha-pinene</text>
<text class="rl" transform="matrix(1 .0005 0 1 402.1 241.51)">tetradecane</text>
<text class="rl" transform="matrix(1 .0005 0 1 402.1 246.08)">n-heptadecane</text>
<text class="rl" transform="matrix(1 .0005 0 1 402.1 250.64)">phenylacetaldehyde</text>
<text class="rl" transform="matrix(1 .0005 0 1 402.1 255.21)">Capric aldehyde</text>
<text class="rl" transform="matrix(1 .0005 0 1 402.1 259.77)">N-heptacosane</text>
<text class="rl" transform="matrix(1 .0005 0 1 402.1 264.34)">2,7, 10-trimethyldodecane</text>
<text class="rl" transform="matrix(1 .0005 0 1 402.1 268.91)">(E,E)-2, 4-hexadienal</text>
<text class="rl" transform="matrix(1 .0005 0 1 402.1 273.47)">γ-terpinene</text>
<text class="rl" transform="matrix(1 .0005 0 1 402.1 278.04)">Nonyl aldehyde</text>
<text class="rl" transform="matrix(1 .0005 0 1 402.1 282.60)">terpinene</text>
<text class="rl" transform="matrix(1 .0005 0 1 402.1 287.17)">O-isopropyl benzene</text>
<text class="rl" transform="matrix(1 .0005 0 1 402.1 291.73)">4-terpenol</text>
<text class="rl" transform="matrix(1 .0005 0 1 402.1 296.30)">n-dodecane</text>
<text class="rl" transform="matrix(1 .0005 0 1 402.1 300.86)">Leaf alcohol</text>
<text class="rl" transform="matrix(1 .0005 0 1 402.1 305.43)">2,6, 11-trimethyldodecane</text>
<text class="rl" transform="matrix(1 .0005 0 1 402.1 309.99)">n-nonadecane</text>
<text class="rl" transform="matrix(1 .0005 0 1 402.1 314.56)">Cis-2-pentene-1-ol</text>
<text class="rl" transform="matrix(1 .0005 0 1 402.1 319.12)">ocimene</text>
<text class="rl" transform="matrix(1 .0005 0 1 402.1 323.69)">n-octadecane</text>
<text class="rl" transform="matrix(1 .0005 0 1 402.1 328.26)">A-bergamonene</text>
<text class="rl" transform="matrix(1 .0005 0 1 402.1 332.82)">n-pentadecane</text>
<text class="rl" transform="matrix(1 .0005 0 1 402.1 337.39)">Chlorophyllin aldehyde</text>
<text class="rl" transform="matrix(1 .0005 0 1 402.1 341.95)">1-pentene-3-ol</text>
<text class="rl" transform="matrix(1 .0005 0 1 402.1 346.52)">phenylacetonitrile</text>
<text class="rl" transform="matrix(1 .0005 0 1 402.1 351.08)">Octyl formate</text>
<text class="rl" transform="matrix(1 .0005 0 1 402.1 355.65)">γ-juniperene</text>
<text class="rl" transform="matrix(1 .0005 0 1 402.1 360.21)">A-curcumene</text>
<text class="rl" transform="matrix(1 .0005 0 1 402.1 364.78)">α-caryophyllene</text>
<text class="rl" transform="matrix(1 .0005 0 1 402.1 369.34)">1-caryophyllene</text>
<text class="rl" transform="matrix(1 .0005 0 1 402.1 373.91)">E)-B- basil</text>
<text class="rl" transform="matrix(1 .0005 0 1 402.1 378.47)">1, 2-dichloroethane</text>
<text class="rl" transform="matrix(1 .0005 0 1 402.1 383.04)">β-pinene</text>
<text class="rl" transform="matrix(1 .0005 0 1 402.1 387.61)">Alcohol ester -12</text>
<text class="rl" transform="matrix(1 .0005 0 1 402.1 392.17)">n-tridecane</text>
<text class="rl" transform="matrix(1 .0005 0 1 402.1 396.74)">1-nonyl alcohol</text>
<text class="rl" transform="matrix(1 .0005 0 1 402.1 401.30)">2-pinene</text>
<text class="rl" transform="matrix(1 .0005 0 1 402.1 405.87)">D-terpenediene</text>
<text class="rl" transform="matrix(1 .0005 0 1 402.1 410.43)">2-hexenal</text>
<text class="rl" transform="matrix(1 .0005 0 1 402.1 415.00)">N-caprylic aldehyde</text>
<text class="rl" transform="matrix(1 .0005 0 1 402.1 419.56)">3-hexene-1-ol</text>
<text class="rl" transform="matrix(1 .0005 0 1 402.1 424.13)">N-hexyl alcohol</text>
<text class="rl" transform="matrix(1 .0005 0 1 402.1 428.69)">Acetal diethyl alcohol</text>
<text class="rl" transform="matrix(1 .0005 0 1 402.1 433.26)">7, 9-di-tert-butyl-1-oxacanthin [4.5] decan-6, 9-diene-2, 8-dione</text>
<text class="rl" transform="matrix(1 .0005 0 1 402.1 437.82)">2, 4-di-tert-butylphenol</text>
<text class="rl" transform="matrix(1 .0005 0 1 402.1 442.39)">2-hexyne-1-ol</text>
<text class="rl" transform="matrix(1 .0005 0 1 402.1 446.96)">3, 7-dimethyl-1,3, 7-octtriene</text>
<text class="rl" transform="matrix(1 .0005 0 1 402.1 451.52)">Eudinol</text>
<text class="rl" transform="matrix(1 .0005 0 1 402.1 456.09)">2-isopropyl - 3-methoxypyrazine</text>
<text class="rl" transform="matrix(1 .0005 0 1 402.1 460.65)">1-pentene-3-ketone</text>
<text class="rl" transform="matrix(1 .0005 0 1 402.1 465.22)">Trans-2-hexenal</text>
<text class="rl" transform="matrix(1 .0005 0 1 402.1 469.78)">2,6, 10-trimethyldodecane</text>
<text class="rl" transform="matrix(1 .0005 0 1 402.1 474.35)">1-tetradecane</text>
<text class="rl" transform="matrix(1 .0005 0 1 402.1 478.91)">Cis-2-pentenol</text>
<text class="rl" transform="matrix(1 .0005 0 1 402.1 483.48)">Basil isomer mixture</text>
<text class="rl" transform="matrix(1 .0005 0 1 402.1 488.04)">tridecane</text>
<text class="rl" transform="matrix(1 .0005 0 1 402.1 492.61)">Diethylhexyl carbonate</text>
<text class="rl" transform="matrix(1 .0005 0 1 402.1 497.17)">2-ethylfuran</text>
<text class="rl" transform="matrix(1 .0005 0 1 402.1 501.74)">2-methyl-4-valeraldehyde</text>
<text class="rl" transform="matrix(1 .0005 0 1 402.1 506.31)">6, 9-heptadecadiene</text>
<text class="rl" transform="matrix(1 .0005 0 1 402.1 510.87)">4-sec-butyl-2, 6-di-tert-butylphenol</text>
<text class="rl" transform="matrix(1 .0005 0 1 402.1 515.44)">Trans-neroli tertiary alcohol</text>
<text class="rl" transform="matrix(1 .0005 0 1 402.1 520.00)">ionone</text>
<text class="rl" transform="matrix(1 .0005 0 1 402.1 524.57)">3-methyl-3-butene-1-ol</text>
<text class="rl" transform="matrix(1 .0005 0 1 402.1 529.13)">(1-methylamyl) cyclopropane</text>
<text class="rl" transform="matrix(1 .0005 0 1 402.1 533.70)">β-zirodone</text>
<text class="rl" transform="matrix(1 .0005 0 1 402.1 538.26)">Cis-α, α-5-trimethyl-5-vinyltetrahydrofuran-2-methanol</text>
<text class="rl" transform="matrix(1 .0005 0 1 402.1 542.83)">2, 6-dimethyl-2,4, 6-octtriene</text>
<text class="rl" transform="matrix(1 .0005 0 1 402.1 547.39)">3-hexenal</text>
<text class="rl" transform="matrix(1 .0005 0 1 402.1 551.96)">2,2, 4-trimethylpentanediol isobutyl ester</text>
<text class="rl" transform="matrix(1 .0005 0 1 402.1 556.52)">2,2, 4-trimethyl-1, 3-pentanediol monoisobutyrate</text>
<text class="rl" transform="matrix(1 .0005 0 1 402.1 561.09)">undecane</text>
<text class="rl" transform="matrix(1 .0005 0 1 402.1 565.66)">decane</text>
<text class="rl" transform="matrix(1 .0005 0 1 402.1 570.22)">4-ethyltoluene</text>
<text class="rl" transform="matrix(1 .0005 0 1 402.1 574.79)">Trans-2-hexene-1-ol</text>
<text class="rl" transform="matrix(1 .0005 0 1 402.1 579.35)">3-ethyltoluene</text>
<text class="rl" transform="matrix(1 .0005 0 1 402.1 583.92)">phytoketone</text>
<text class="rl" transform="matrix(1 .0005 0 1 402.1 588.48)">trans-2-nonene-1-ol</text>
<text class="rl" transform="matrix(1 .0005 0 1 402.1 593.05)">mesitylene</text>
<text class="rl" transform="matrix(1 .0005 0 1 402.1 597.61)">2, 6-dimethyl-nonane</text>
<text class="rl" transform="matrix(1 .0005 0 1 402.1 602.18)">Methyl heptenone</text>
<text class="rl" transform="matrix(1 .0005 0 1 402.1 606.74)">Methyl caprylate</text>
<text class="rl" transform="matrix(1 .0005 0 1 402.1 611.31)">p-xylene</text>
<text class="rl" transform="matrix(1 .0005 0 1 402.1 615.87)">N-decanoic acid</text>
<text class="rl" transform="matrix(1 .0005 0 1 402.1 620.44)">Ethyl caprate</text>
<text class="rl" transform="matrix(1 .0005 0 1 402.1 625.01)">Methyl caprate</text>
<text class="rl" transform="matrix(1 .0005 0 1 402.1 629.57)">Ethyl caprylate</text>
<text class="rl" transform="matrix(1 .0005 0 1 402.1 634.14)">Dibutyl phthalate</text>
<text class="rl" transform="matrix(1 .0005 0 1 402.1 638.70)">Geranyl acetone</text>
<text class="rl" transform="matrix(1 .0005 0 1 402.1 643.27)">2,2, 4-trimethyl-1, 3-pentanediol diisobutyrate</text>
</g>
<g id="collabels">
<text class="cl" transform="matrix(1 .0005 0 1 65.27 649.6)">Iris typhifolia-decay</text>
<text class="cl" transform="matrix(1 .0005 0 1 104.62 649.6)">Iris sanguinea-decay</text>
<text class="cl" transform="matrix(1 .0005 0 1 143.96 649.6)">Iris typhifolia-bloom</text>
<text class="cl" transform="matrix(1 .0005 0 1 183.31 649.6)">Iris sanguinea-bloom</text>
<text class="cl" transform="matrix(1 .0005 0 1 222.65 649.6)">Iris uniflora-decay</text>
<text class="cl" transform="matrix(1 .0005 0 1 261.99 649.6)">Iris uniflora-bloom</text>
<text class="cl" transform="matrix(1 .0005 0 1 301.34 649.6)">Iris typhifolia-bud</text>
<text class="cl" transform="matrix(1 .0005 0 1 340.68 649.6)">Iris uniflora-bud</text>
<text class="cl" transform="matrix(1 .0005 0 1 380.03 649.6)">Iris sanguinea-bud</text>
</g>
<text class="tt" transform="matrix(1 .0005 0 1 222.5 8.0)">Heatmap Plot</text>
<g id="colorbar">
<rect x="528.10" y="50.50" width="7.70" height="6.25" fill="#ff1418"/>
<rect x="528.10" y="56.15" width="7.70" height="6.25" fill="#ff2c30"/>
<rect x="528.10" y="61.79" width="7.70" height="6.25" fill="#ff4448"/>
<rect x="528.10" y="67.44" width="7.70" height="6.25" fill="#ff5d5f"/>
<rect x="528.10" y="73.08" width="7.70" height="6.25" fill="#ff7577"/>
<rect x="528.10" y="78.72" width="7.70" height="6.25" fill="#ff8d8f"/>
<rect x="528.10" y="84.37" width="7.70" height="6.25" fill="#ffa5a7"/>
<rect x="528.10" y="90.02" width="7.70" height="6.25" fill="#fcbebe"/>
<rect x="528.10" y="95.66" width="7.70" height="6.25" fill="#f7d6d6"/>
<rect x="528.10" y="101.31" width="7.70" height="6.25" fill="#eeeeee"/>
<rect x="528.10" y="106.95" width="7.70" height="6.25" fill="#d8e1f5"/>
<rect x="528.10" y="112.59" width="7.70" height="6.25" fill="#bccdf0"/>
<rect x="528.10" y="118.24" width="7.70" height="6.25" fill="#a3c0ee"/>
<rect x="528.10" y="123.89" width="7.70" height="6.25" fill="#8ab4ec"/>
<rect x="528.10" y="129.53" width="7.70" height="6.25" fill="#6fa3ea"/>
<rect x="528.10" y="135.18" width="7.70" height="6.25" fill="#5090e8"/>
<rect x="528.10" y="140.82" width="7.70" height="6.25" fill="#2a7ee8"/>
<rect x="528.10" y="146.47" width="7.70" height="6.25" fill="#1070ea"/>
<rect x="528.10" y="152.11" width="7.70" height="6.25" fill="#0860ee"/>
<rect x="528.10" y="157.75" width="7.70" height="5.65" fill="#0548f0"/>
<text class="cb" transform="matrix(1 .0005 0 1 538.8 51.87)">1</text>
<text class="cb" transform="matrix(1 .0005 0 1 538.8 80.09)">0.5</text>
<text class="cb" transform="matrix(1 .0005 0 1 538.8 108.32)">0</text>
<text class="cb" transform="matrix(1 .0005 0 1 538.8 136.55)">-0.5</text>
<text class="cb" transform="matrix(1 .0005 0 1 538.8 164.77)">-1</text>
</g>
<g class="dg">
<path d="M42.70 57.25L42.70 72.40M42.70 57.25L45.60 57.25M42.70 72.40L45.60 72.40M38.00 52.68L38.00 64.82M38.00 52.68L45.60 52.68M38.00 64.82L42.70 64.82M30.30 107.47L30.30 112.03M30.30 107.47L45.60 107.47M30.30 112.03L45.60 112.03M27.50 58.75L27.50 109.75M27.50 58.75L38.00 58.75M27.50 109.75L30.30 109.75M38.00 116.60L38.00 121.16M38.00 116.60L45.60 116.60M38.00 121.16L45.60 121.16M41.80 130.29L41.80 151.90M41.80 130.29L45.60 130.29M41.80 151.90L45.60 151.90M36.80 125.73L36.80 141.10M36.80 125.73L45.60 125.73M36.80 141.10L41.80 141.10M30.30 118.88L30.30 133.41M30.30 118.88L38.00 118.88M30.30 133.41L36.80 133.41M44.30 185.08L44.30 192.50M44.30 185.08L45.60 185.08M44.30 192.50L45.60 192.50M42.20 180.51L42.20 188.79M42.20 180.51L45.60 180.51M42.20 188.79L44.30 188.79M39.80 175.95L39.80 184.65M39.80 175.95L45.60 175.95M39.80 184.65L42.20 184.65M44.20 203.34L44.20 207.91M44.20 203.34L45.60 203.34M44.20 207.91L45.60 207.91M44.20 212.47L44.20 217.04M44.20 212.47L45.60 212.47M44.20 217.04L45.60 217.04M42.20 205.62L42.20 214.75M42.20 205.62L44.20 205.62M42.20 214.75L44.20 214.75M38.10 198.78L38.10 210.19M38.10 198.78L45.60 198.78M38.10 210.19L42.20 210.19M37.30 180.30L37.30 204.48M37.30 180.30L39.80 180.30M37.30 204.48L38.10 204.48M27.40 171.38L27.40 192.39M27.40 171.38L45.60 171.38M27.40 192.39L37.30 192.39M17.60 126.15L17.60 181.89M17.60 126.15L30.30 126.15M17.60 181.89L27.40 181.89M11.80 84.25L11.80 154.02M11.80 84.25L27.50 84.25M11.80 154.02L17.60 154.02M38.40 221.60L38.40 226.17M38.40 221.60L45.60 221.60M38.40 226.17L45.60 226.17M41.50 230.73L41.50 235.30M41.50 230.73L45.60 230.73M41.50 235.30L45.60 235.30M42.50 244.43L42.50 248.99M42.50 244.43L45.60 244.43M42.50 248.99L45.60 248.99M38.40 239.86L38.40 246.71M38.40 239.86L45.60 239.86M38.40 246.71L42.50 246.71M36.60 233.02L36.60 243.29M36.60 233.02L41.50 233.02M36.60 243.29L38.40 243.29M31.30 223.88L31.30 238.15M31.30 223.88L38.40 223.88M31.30 238.15L36.60 238.15M41.50 253.56L41.50 261.90M41.50 253.56L45.60 253.56M41.50 261.90L45.60 261.90M44.50 285.52L44.50 290.08M44.50 285.52L45.60 285.52M44.50 290.08L45.60 290.08M43.20 280.95L43.20 287.80M43.20 280.95L45.60 280.95M43.20 287.80L44.50 287.80M39.70 276.39L39.70 284.38M39.70 276.39L45.60 276.39M39.70 284.38L43.20 284.38M36.60 257.73L36.60 280.38M36.60 257.73L41.50 257.73M36.60 280.38L39.70 280.38M43.60 303.78L43.60 308.34M43.60 303.78L45.60 303.78M43.60 308.34L45.60 308.34M39.70 299.21L39.70 306.06M39.70 299.21L45.60 299.21M39.70 306.06L43.60 306.06M34.70 294.65L34.70 302.64M34.70 294.65L45.60 294.65M34.70 302.64L39.70 302.64M29.60 269.06L29.60 298.64M29.60 269.06L36.60 269.06M29.60 298.64L34.70 298.64M21.60 231.02L21.60 283.85M21.60 231.02L31.30 231.02M21.60 283.85L29.60 283.85M32.60 312.91L32.60 317.47M32.60 312.91L45.60 312.91M32.60 317.47L45.60 317.47M39.50 322.04L39.50 326.61M39.50 322.04L45.60 322.04M39.50 326.61L45.60 326.61M35.70 331.17L35.70 335.74M35.70 331.17L45.60 331.17M35.70 335.74L45.60 335.74M37.20 344.87L37.20 361.80M37.20 344.87L45.60 344.87M37.20 361.80L45.60 361.80M31.70 340.30L31.70 353.33M31.70 340.30L45.60 340.30M31.70 353.33L37.20 353.33M29.60 333.45L29.60 346.82M29.60 333.45L35.70 333.45M29.60 346.82L31.70 346.82M24.80 324.32L24.80 340.14M24.80 324.32L39.50 324.32M24.80 340.14L29.60 340.14M18.20 315.19L18.20 332.23M18.20 315.19L32.60 315.19M18.20 332.23L24.80 332.23M11.20 257.43L11.20 323.71M11.20 257.43L21.60 257.43M11.20 323.71L18.20 323.71M9.20 119.13L9.20 290.57M9.20 119.13L11.80 119.13M9.20 290.57L11.20 290.57M30.30 408.78L30.30 413.35M30.30 408.78L45.60 408.78M30.30 413.35L45.60 413.35M41.40 417.91L41.40 422.48M41.40 417.91L45.60 417.91M41.40 422.48L45.60 422.48M42.70 427.04L42.70 431.61M42.70 427.04L45.60 427.04M42.70 431.61L45.60 431.61M39.50 436.17L39.50 447.60M39.50 436.17L45.60 436.17M39.50 447.60L45.60 447.60M34.00 429.33L34.00 441.89M34.00 429.33L42.70 429.33M34.00 441.89L39.50 441.89M25.60 420.20L25.60 435.61M25.60 420.20L41.40 420.20M25.60 435.61L34.00 435.61M21.30 411.07L21.30 427.90M21.30 411.07L30.30 411.07M21.30 427.90L25.60 427.90M43.70 463.57L43.70 480.10M43.70 463.57L45.60 463.57M43.70 480.10L45.60 480.10M26.70 459.00L26.70 471.83M26.70 459.00L45.60 459.00M26.70 471.83L43.70 471.83M34.90 500.09L34.90 522.30M34.90 500.09L45.60 500.09M34.90 522.30L45.60 522.30M26.70 495.52L26.70 511.20M26.70 495.52L45.60 495.52M26.70 511.20L34.90 511.20M12.10 465.42L12.10 503.36M12.10 465.42L26.70 465.42M12.10 503.36L26.70 503.36M44.40 609.66L44.40 614.22M44.40 609.66L45.60 609.66M44.40 614.22L45.60 614.22M44.60 623.36L44.60 627.92M44.60 623.36L45.60 623.36M44.60 627.92L45.60 627.92M43.80 618.79L43.80 625.64M43.80 618.79L45.60 618.79M43.80 625.64L44.60 625.64M42.70 611.94L42.70 622.21M42.70 611.94L44.40 611.94M42.70 622.21L43.80 622.21M40.50 605.09L40.50 617.08M40.50 605.09L45.60 605.09M40.50 617.08L42.70 617.08M35.60 600.53L35.60 611.09M35.60 600.53L45.60 600.53M35.60 611.09L40.50 611.09M44.70 637.05L44.70 641.62M44.70 637.05L45.60 637.05M44.70 641.62L45.60 641.62M35.50 632.49L35.50 639.33M35.50 632.49L45.60 632.49M35.50 639.33L44.70 639.33M30.50 605.81L30.50 635.91M30.50 605.81L35.60 605.81M30.50 635.91L35.50 635.91M34.70 545.74L34.70 570.40M34.70 545.74L45.60 545.74M34.70 570.40L45.60 570.40M12.40 558.07L12.40 620.86M12.40 558.07L34.70 558.07M12.40 620.86L30.50 620.86M10.00 484.39L10.00 589.47M10.00 484.39L12.10 484.39M10.00 589.47L12.40 589.47M8.70 419.48L8.70 536.93M8.70 419.48L21.30 419.48M8.70 536.93L10.00 536.93M6.40 204.85L6.40 478.21M6.40 204.85L9.20 204.85M6.40 478.21L8.70 478.21M340.68 23.40L380.03 23.40M340.68 23.40L340.68 50.40M380.03 23.40L380.03 50.40M301.34 22.10L360.36 22.10M301.34 22.10L301.34 50.40M360.36 22.10L360.36 23.40M261.99 20.40L330.85 20.40M261.99 20.40L261.99 50.40M330.85 20.40L330.85 22.10M222.65 18.90L296.42 18.90M222.65 18.90L222.65 50.40M296.42 18.90L296.42 20.40M183.31 17.30L259.54 17.30M183.31 17.30L183.31 50.40M259.54 17.30L259.54 18.90M143.96 13.20L221.42 13.20M143.96 13.20L143.96 50.40M221.42 13.20L221.42 17.30M65.27 18.20L104.62 18.20M65.27 18.20L65.27 50.40M104.62 18.20L104.62 50.40M84.94 11.20L182.69 11.20M84.94 11.20L84.94 18.20M182.69 11.20L182.69 13.20"/>
</g>
</svg>
</body></html>
